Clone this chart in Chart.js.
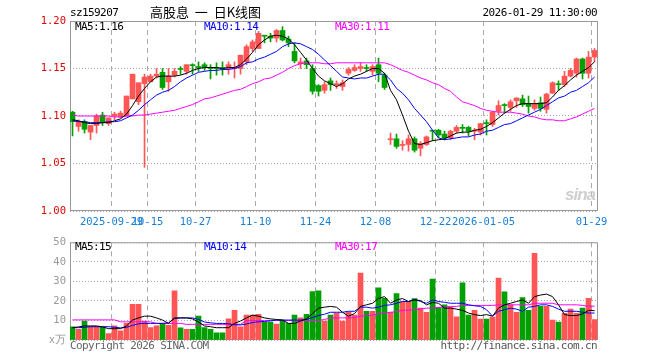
<!DOCTYPE html>
<html>
<head>
<meta charset="utf-8">
<script src="https://cdn.jsdelivr.net/npm/chart.js@4.4.1/dist/chart.umd.min.js"></script>
<style>
  body { margin: 0; background: #fff; }
  #wrap { position: relative; width: 660px; height: 360px; overflow: hidden; font-family: 'DejaVu Sans Mono', monospace; }
  canvas { position: absolute; left: 0; }
  .t { position: absolute; font-size: 11px; letter-spacing: -0.6px; line-height: 12px; white-space: pre; }
</style>
</head>
<body>
<div id="wrap">
  <canvas id="kline" width="660" height="232" style="top:0"></canvas>
  <canvas id="vol" width="660" height="128" style="top:232px"></canvas>
  <div class="t" style="left:70px;top:7px">sz159207</div>
  <div class="t" style="left:150px;top:4px;font-family:'Noto Sans CJK SC';font-size:13px;letter-spacing:0;line-height:15px">高股息  一  日K线图</div>
  <div class="t" style="right:63px;top:7px">2026-01-29 11:30:00</div>
  <div class="t" id="lg5" style="left:75px;top:21px;color:#000"></div>
  <div class="t" id="lg10" style="left:204px;top:21px;color:#0000ff"></div>
  <div class="t" id="lg30" style="left:335px;top:21px;color:#ff00ff"></div>
  <div class="t" id="vlg5" style="left:75px;top:241px;color:#000"></div>
  <div class="t" id="vlg10" style="left:204px;top:241px;color:#0000ff"></div>
  <div class="t" id="vlg30" style="left:335px;top:241px;color:#ff00ff"></div>
  <div class="t" style="left:565px;top:189px;font-family:'Liberation Sans';font-weight:bold;font-style:italic;font-size:17px;letter-spacing:-1px;color:#cfcfcf">sina</div>
  <div class="t" style="left:70px;top:340px;color:#666">Copyright 2026 SINA.COM</div>
  <div class="t" style="right:63px;top:340px;color:#555">http://finance.sina.com.cn</div>
</div>
<script>
// 日K数据 (2025-09-18 ~ 2026-01-29)
const opens = [1.104,1.089,1.094,1.083,1.090,1.101,1.092,1.100,1.099,1.100,
  1.118,1.115,1.134,1.136,1.142,1.146,1.136,1.143,1.150,1.147,
  1.154,1.152,1.154,1.151,1.151,1.151,1.150,1.150,1.150,1.157,
  1.171,1.171,1.185,1.184,1.182,1.190,1.181,1.168,1.155,1.158,
  1.150,1.132,1.127,1.137,1.133,1.131,1.145,1.148,1.150,1.151,
  1.147,1.154,1.143,1.075,1.076,1.069,1.070,1.076,1.066,1.070,
  1.085,1.085,1.081,1.077,1.084,1.088,1.088,1.084,1.083,1.093,
  1.091,1.105,1.112,1.109,1.116,1.118,1.113,1.108,1.114,1.107,
  1.124,1.134,1.133,1.142,1.145,1.160,1.145,1.162];
const highs = [1.105,1.096,1.096,1.090,1.102,1.104,1.098,1.104,1.105,1.121,
  1.144,1.135,1.144,1.144,1.150,1.150,1.150,1.150,1.152,1.154,
  1.155,1.157,1.156,1.154,1.156,1.157,1.157,1.157,1.164,1.175,
  1.180,1.189,1.185,1.187,1.191,1.194,1.184,1.177,1.161,1.161,
  1.154,1.133,1.136,1.140,1.137,1.138,1.151,1.154,1.156,1.154,
  1.154,1.161,1.145,1.082,1.081,1.074,1.080,1.078,1.073,1.079,
  1.085,1.086,1.084,1.085,1.090,1.091,1.089,1.087,1.092,1.096,
  1.105,1.116,1.113,1.117,1.119,1.122,1.121,1.117,1.120,1.124,
  1.136,1.137,1.147,1.150,1.161,1.161,1.168,1.171];
const lows = [1.079,1.084,1.082,1.075,1.082,1.090,1.090,1.096,1.098,1.100,
  1.118,1.112,1.046,1.136,1.140,1.128,1.126,1.141,1.144,1.144,
  1.144,1.147,1.148,1.139,1.143,1.143,1.144,1.140,1.144,1.154,
  1.168,1.171,1.177,1.178,1.178,1.179,1.173,1.156,1.150,1.150,
  1.123,1.121,1.124,1.127,1.129,1.127,1.143,1.147,1.147,1.147,
  1.143,1.136,1.128,1.070,1.066,1.064,1.063,1.062,1.058,1.069,
  1.074,1.077,1.075,1.075,1.082,1.082,1.079,1.075,1.080,1.080,
  1.089,1.101,1.103,1.105,1.109,1.110,1.103,1.106,1.105,1.103,
  1.124,1.127,1.131,1.141,1.141,1.139,1.140,1.157];
const closes = [1.094,1.094,1.086,1.090,1.100,1.094,1.098,1.102,1.103,1.121,
  1.144,1.135,1.141,1.142,1.144,1.130,1.142,1.147,1.149,1.154,
  1.153,1.151,1.151,1.150,1.150,1.150,1.154,1.151,1.164,1.173,
  1.178,1.187,1.184,1.182,1.190,1.180,1.177,1.158,1.157,1.154,
  1.126,1.126,1.133,1.133,1.134,1.135,1.149,1.151,1.152,1.150,
  1.152,1.145,1.130,1.076,1.068,1.070,1.076,1.064,1.071,1.078,
  1.084,1.080,1.077,1.084,1.088,1.087,1.084,1.085,1.092,1.092,
  1.104,1.111,1.111,1.115,1.119,1.112,1.110,1.113,1.108,1.123,
  1.135,1.133,1.142,1.148,1.160,1.145,1.162,1.169];

// 均线
const ma5 = [1.096,1.095,1.093,1.092,1.092,1.093,1.093,1.095,1.097,1.102,
  1.111,1.121,1.129,1.136,1.141,1.142,1.142,1.142,1.143,1.145,
  1.148,1.150,1.151,1.151,1.151,1.150,1.151,1.151,1.154,1.160,
  1.167,1.175,1.180,1.184,1.185,1.184,1.181,1.175,1.167,1.159,
  1.150,1.142,1.137,1.134,1.131,1.134,1.139,1.142,1.144,1.147,
  1.150,1.150,1.145,1.127,1.117,1.101,1.084,1.071,1.070,1.072,
  1.074,1.075,1.076,1.079,1.082,1.083,1.083,1.085,1.086,1.089,
  1.093,1.098,1.103,1.107,1.111,1.113,1.113,1.113,1.113,1.114,
  1.120,1.127,1.132,1.138,1.143,1.147,1.151,1.157];
const ma10 = [1.095,1.094,1.094,1.093,1.093,1.093,1.094,1.094,1.095,1.098,
  1.101,1.106,1.112,1.117,1.122,1.125,1.127,1.131,1.136,1.140,
  1.143,1.146,1.147,1.148,1.148,1.149,1.149,1.150,1.152,1.156,
  1.157,1.160,1.162,1.165,1.168,1.173,1.176,1.177,1.176,1.173,
  1.170,1.165,1.159,1.153,1.147,1.141,1.140,1.139,1.140,1.140,
  1.142,1.144,1.144,1.138,1.129,1.124,1.117,1.108,1.101,1.094,
  1.085,1.077,1.075,1.076,1.077,1.078,1.078,1.080,1.081,1.084,
  1.085,1.088,1.091,1.092,1.095,1.098,1.101,1.104,1.107,1.111,
  1.115,1.119,1.121,1.125,1.127,1.131,1.135,1.141];
const ma30 = [1.101,1.100,1.100,1.100,1.100,1.100,1.100,1.099,1.099,1.100,
  1.100,1.101,1.101,1.102,1.103,1.104,1.105,1.106,1.108,1.110,
  1.112,1.115,1.118,1.119,1.121,1.123,1.125,1.127,1.128,1.131,
  1.134,1.136,1.139,1.140,1.143,1.146,1.150,1.153,1.155,1.156,
  1.156,1.156,1.155,1.155,1.156,1.156,1.156,1.156,1.156,1.156,
  1.156,1.156,1.156,1.154,1.151,1.148,1.146,1.143,1.140,1.138,
  1.135,1.133,1.129,1.126,1.120,1.115,1.113,1.111,1.108,1.106,
  1.105,1.104,1.104,1.104,1.103,1.102,1.100,1.099,1.097,1.096,
  1.096,1.095,1.095,1.097,1.099,1.102,1.105,1.108];

// 成交量 (万手)
const volumes = [6.8,5.5,9.7,6.8,6.8,6.8,3.3,7.2,4.7,8.5,
  18.2,18.2,9.7,6.3,7.2,8.5,7.5,25.2,6.2,5.5,
  5.5,12.2,6.3,5.5,3.7,3.7,10.8,15.2,6.7,12.7,
  12.7,13.2,9.2,9.2,8.2,10.2,8.5,12.7,11.3,13.2,
  24.8,25.2,9.7,12.7,13.8,9.7,14.2,12.7,34.2,14.7,
  14.7,26.7,21.3,14.2,23.7,19.7,19.7,21.2,16.3,14.2,
  31.2,16.7,18.0,16.7,11.8,29.2,12.7,15.2,10.7,10.7,
  11.7,31.7,24.7,18.0,14.2,21.7,15.2,44.3,17.2,17.2,
  10.2,9.2,13.7,15.8,13.7,16.3,21.3,10.5];
const vma5 = [6.3,6.7,7.2,7.2,7.2,6.7,5.8,5.8,5.8,7.2,
  10.2,11.3,12.2,12.2,11.3,10.2,8.5,11.3,11.3,11.3,
  10.8,9.2,7.2,6.8,6.3,6.3,6.3,8.5,9.7,11.3,
  12.7,12.2,11.3,10.8,10.5,10.2,8.5,8.5,9.7,10.8,
  13.5,16.3,16.8,17.2,16.8,14.2,12.2,13.5,17.2,18.0,
  18.8,21.3,22.2,18.8,20.5,21.2,19.7,20.5,20.2,18.0,
  19.2,18.8,16.3,16.3,15.8,15.2,13.8,13.0,12.5,13.0,
  12.2,16.3,18.0,18.8,19.7,20.5,18.8,22.2,23.0,23.5,
  22.2,18.0,13.0,12.5,12.5,13.3,15.2,15.0];
const vma10 = [6.3,6.3,6.5,6.8,6.8,6.8,6.8,6.5,6.2,6.5,
  7.5,8.3,8.5,8.5,8.5,8.5,8.8,11.0,11.3,11.3,
  11.3,10.5,9.2,8.8,8.5,8.5,8.3,7.8,7.7,8.2,
  9.0,9.3,9.5,9.8,10.2,10.2,10.2,10.2,10.2,10.5,
  11.5,12.5,13.2,14.2,14.2,14.2,14.7,14.7,16.8,16.8,
  16.3,16.8,17.7,18.0,18.8,19.7,19.7,20.8,19.7,18.8,
  20.5,19.7,19.3,18.8,18.8,18.8,18.0,17.5,17.2,15.5,
  12.2,14.7,15.5,16.3,15.8,14.7,16.8,17.2,18.0,18.0,
  17.2,15.8,14.7,14.7,14.7,14.2,13.8,13.8];
const vma30 = [10.3,10.3,10.3,10.3,10.3,10.3,10.3,10.3,9.3,9.3,
  9.3,9.3,9.3,9.3,8.5,8.5,8.5,8.5,8.5,8.0,
  8.0,8.0,8.0,8.0,8.0,8.0,8.0,8.0,8.0,10.0,
  10.0,10.0,10.0,10.0,10.0,10.0,10.0,10.0,10.0,10.0,
  10.0,10.0,10.5,11.3,11.3,11.3,11.3,11.5,12.2,12.5,
  12.7,13.5,13.8,14.2,14.5,15.2,15.3,15.5,15.8,16.3,
  16.3,16.7,16.8,17.2,17.2,17.7,17.7,17.7,17.7,17.7,
  17.7,18.0,18.0,18.0,18.0,18.0,18.0,18.8,18.8,18.8,
  18.8,18.0,18.0,18.0,18.0,17.7,17.3,17.3];

// 横轴刻度
const tickIdx = [7, 13, 21, 31, 41, 51, 61, 69, 87];
const tickLabels = ['2025-09-29','10-15','10-27','11-10','11-24','12-08','12-22','2026-01-05','01-29'];

const RED = '#ff5555', GREEN = '#00a000';
const colors = closes.map((c, i) => c >= opens[i] ? RED : GREEN);
const last = ma5.length - 1;

document.getElementById('lg5').textContent = 'MA5:' + ma5[last].toFixed(2);
document.getElementById('lg10').textContent = 'MA10:' + ma10[last].toFixed(2);
document.getElementById('lg30').textContent = 'MA30:' + ma30[last].toFixed(2);
document.getElementById('vlg5').textContent = 'MA5:' + Math.round(vma5[last]);
document.getElementById('vlg10').textContent = 'MA10:' + Math.round(vma10[last]);
document.getElementById('vlg30').textContent = 'MA30:' + Math.round(vma30[last]);

const font = { family: "'DejaVu Sans Mono', monospace", size: 10.5 };
const toXY = arr => arr.map((v, i) => ({ x: i, y: v }));

// 画外框
const boxPlugin = {
  id: 'box',
  beforeDatasetsDraw(chart) {
    const { ctx, chartArea: a } = chart;
    ctx.save();
    ctx.strokeStyle = '#999';
    ctx.lineWidth = 1;
    ctx.strokeRect(a.left + 0.5, a.top + 0.5, a.right - a.left - 1, a.bottom - a.top - 1);
    ctx.restore();
  }
};

function lineSet(data, color) {
  return {
    type: 'line', data: toXY(data), borderColor: color, borderWidth: 1,
    pointRadius: 0, fill: false, tension: 0, order: 0
  };
}

function xAxis(showTicks, h) {
  return {
    type: 'linear', min: -0.42, max: 87.58, bounds: 'data', offset: false,
    afterBuildTicks: s => { s.ticks = tickIdx.map(i => ({ value: i - 0.5 })); },
    afterFit: s => { s.height = h; },
    grid: { color: '#aaa', drawTicks: false, offset: false },
    border: { display: false, dash: [5, 4] },
    ticks: {
      display: showTicks, autoSkip: false, maxRotation: 0, padding: 5,
      color: '#1a7fd4', font: font,
      callback: (v, i) => tickLabels[i]
    }
  };
}

new Chart(document.getElementById('kline'), {
  type: 'bar',
  data: {
    datasets: [
      lineSet(ma5, '#000000'),
      lineSet(ma10, '#0000ff'),
      lineSet(ma30, '#ff00ff'),
      {
        data: opens.map((o, i) => ({ x: i, y: [o, closes[i]] })),
        backgroundColor: colors, barThickness: 5, minBarLength: 1, grouped: false, order: 1
      },
      {
        data: lows.map((l, i) => ({ x: i, y: [l, highs[i]] })),
        backgroundColor: colors, barThickness: 1, grouped: false, order: 2
      }
    ]
  },
  options: {
    responsive: false, animation: false, events: [],
    layout: { padding: { left: 0, right: 62, top: 21, bottom: 0 } },
    plugins: { legend: { display: false }, tooltip: { enabled: false } },
    scales: {
      x: xAxis(true, 21),
      y: {
        min: 1.0, max: 1.2,
        afterFit: s => { s.width = 70; },
        grid: { color: '#aaa', drawTicks: false },
        border: { display: false, dash: [1, 2] },
        ticks: { stepSize: 0.05, padding: 4, color: '#e00000', font: font, callback: v => v.toFixed(2) }
      }
    }
  },
  plugins: [boxPlugin]
});

new Chart(document.getElementById('vol'), {
  type: 'bar',
  data: {
    datasets: [
      lineSet(vma5, '#000000'),
      lineSet(vma10, '#0000ff'),
      lineSet(vma30, '#ff00ff'),
      {
        data: toXY(volumes),
        backgroundColor: colors, barThickness: 5, grouped: false, order: 1
      }
    ]
  },
  options: {
    responsive: false, animation: false, events: [],
    layout: { padding: { left: 0, right: 62, top: 8, bottom: 0 } },
    plugins: { legend: { display: false }, tooltip: { enabled: false } },
    scales: {
      x: xAxis(false, 20),
      y: {
        min: 0, max: 50,
        afterFit: s => { s.width = 70; },
        grid: { color: '#aaa', drawTicks: false },
        border: { display: false, dash: [1, 2] },
        ticks: { stepSize: 10, padding: 4, color: '#999', font: font, callback: v => v === 0 ? 'x万' : v }
      }
    }
  },
  plugins: [boxPlugin]
});
</script>
</body>
</html>
